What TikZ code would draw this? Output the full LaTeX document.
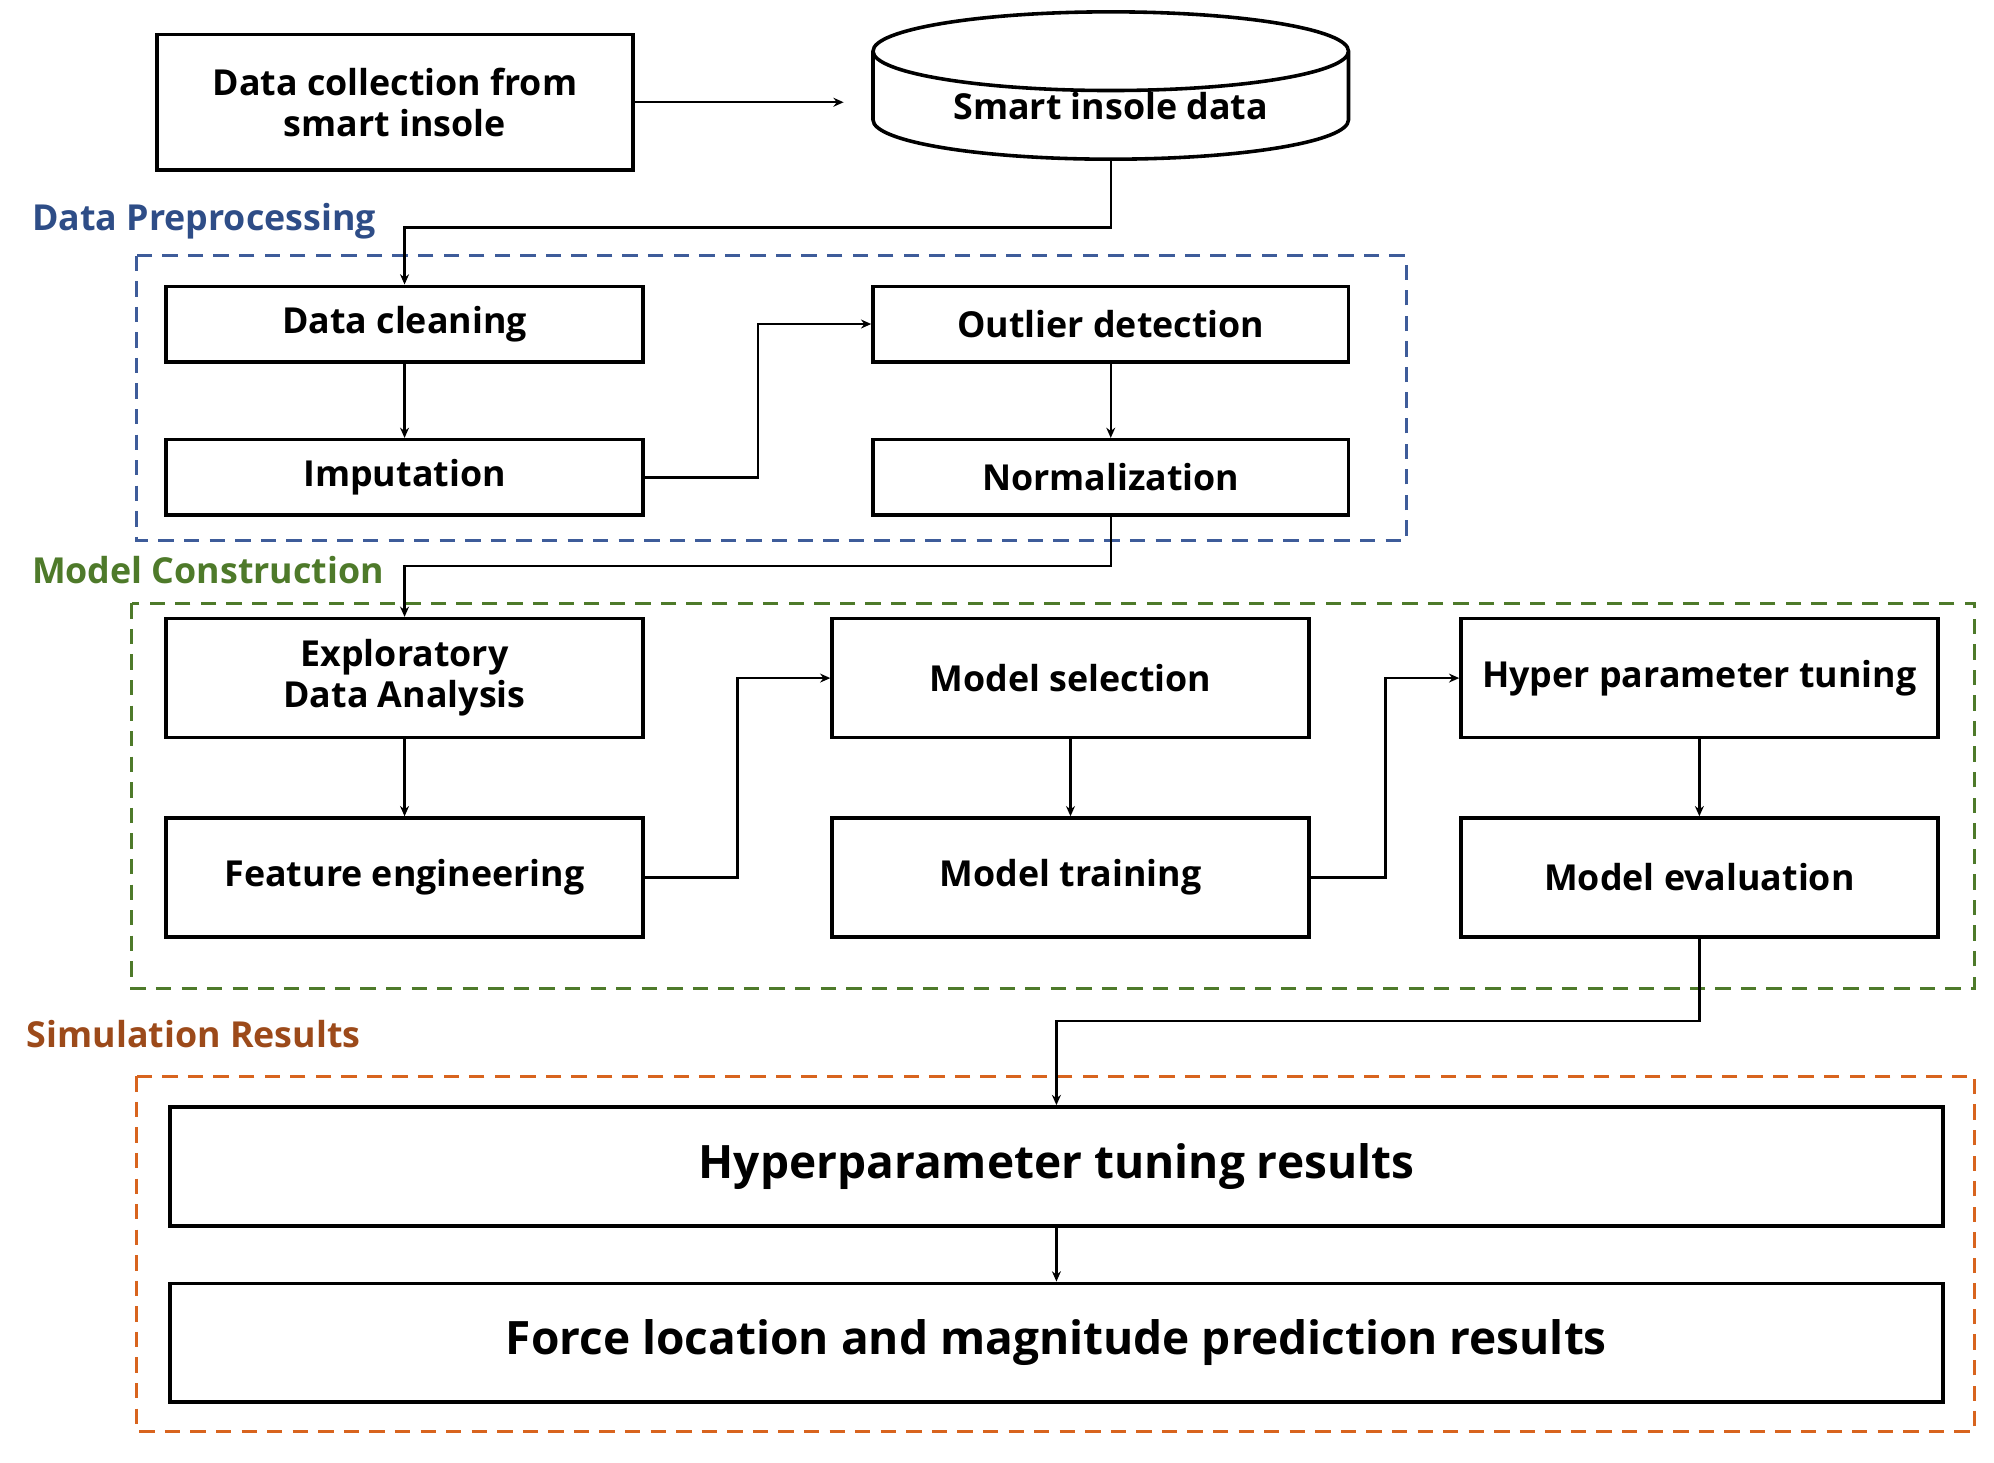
\documentclass[tikz,border=0pt]{standalone}
\usepackage{fontspec}
\setmainfont{Open Sans}
\usetikzlibrary{shapes.geometric,arrows.meta}
\definecolor{dpblue}{HTML}{2E4D87}
\definecolor{mcgreen}{HTML}{4E7A2A}
\definecolor{srbrown}{HTML}{9C4A1A}
\definecolor{boxblue}{HTML}{3E5C9A}
\definecolor{boxgreen}{HTML}{4E7A2A}
\definecolor{boxorange}{HTML}{D8641E}
\begin{document}
\begin{tikzpicture}[x=0.5pt,y=-0.5pt,
  box/.style={draw,line width=1.4pt,fill=white,font=\bfseries\fontsize{14}{16}\selectfont,align=center,inner sep=0pt},
  big/.style={box,font=\bfseries\fontsize{18}{21}\selectfont},
  conn/.style={line width=0.9pt,-{Stealth[length=4pt,width=3.5pt]}},
  grp/.style={dashed,line width=1.2pt,dash pattern=on 6pt off 4pt},
  lab/.style={anchor=west,font=\bfseries\fontsize{14}{16}\selectfont}]
\path[use as bounding box,fill=white] (0,0) rectangle (1560,1144);
\draw[grp,boxblue] (107,200) rectangle (1100,423);
\draw[grp,boxgreen] (103,472) rectangle (1545,773);
\draw[grp,boxorange] (107,842) rectangle (1545,1120);
\node[lab,dpblue] (l1) at (18,173) {Data Preprocessing};
\node[lab,mcgreen] (l2) at (18,446) {Model Construction};
\node[lab,srbrown] (l3) at (14,809) {Simulation Results};
\node[box,minimum width=186pt,minimum height=53pt] (dc) at (309,80) {Data collection from\\smart insole};
\node[box,cylinder,shape border rotate=90,aspect=0.25,minimum width=186pt,minimum height=51pt] (sid) at (869,83) {Smart insole data};
\coordinate (ae) at (660,80);
\node[box,minimum width=186.5pt,minimum height=29.5pt] (cl) at (316.5,253.5) {Data cleaning};
\node[box,minimum width=186.5pt,minimum height=29.5pt] (im) at (316.5,373.5) {Imputation};
\node[box,minimum width=186pt,minimum height=29.5pt] (od) at (869,253.5) {Outlier detection};
\node[box,minimum width=186pt,minimum height=29.5pt] (no) at (869,373.5) {Normalization};
\node[box,minimum width=186.5pt,minimum height=46.5pt] (eda) at (316.5,530.5) {Exploratory\\Data Analysis};
\node[box,minimum width=186.5pt,minimum height=46.5pt] (fe) at (316.5,686.5) {Feature engineering};
\node[box,minimum width=186.5pt,minimum height=46.5pt] (ms) at (837.5,530.5) {Model selection};
\node[box,minimum width=186.5pt,minimum height=46.5pt] (mt) at (837.5,686.5) {Model training};
\node[box,minimum width=186.5pt,minimum height=46.5pt] (hp) at (1329.5,530.5) {Hyper parameter tuning};
\node[box,minimum width=186.5pt,minimum height=46.5pt] (me) at (1329.5,686.5) {Model evaluation};
\node[big,minimum width=693.5pt,minimum height=46.5pt] (htr) at (826.5,912.5) {Hyperparameter\ tuning\ results};
\node[big,minimum width=693.5pt,minimum height=46.5pt] (flr) at (826.5,1050.5) {Force\ location\ and\ magnitude\ prediction\ results};
\draw[conn] (dc.east) -- (ae);
\draw[conn] (sid.south) -- (869,178) -| (cl.north);
\draw[conn] (cl) -- (im);
\draw[conn] (im.east) -- (593,373.5) |- (od.west);
\draw[conn] (od) -- (no);
\draw[conn] (no.south) -- (869,443) -| (eda.north);
\draw[conn] (eda) -- (fe);
\draw[conn] (fe.east) -- (577,686.5) |- (ms.west);
\draw[conn] (ms) -- (mt);
\draw[conn] (mt.east) -- (1084,686.5) |- (hp.west);
\draw[conn] (hp) -- (me);
\draw[conn] (me.south) -- (1329.5,799) -| (htr.north);
\draw[conn] (htr) -- (flr);
\end{tikzpicture}
\end{document}
